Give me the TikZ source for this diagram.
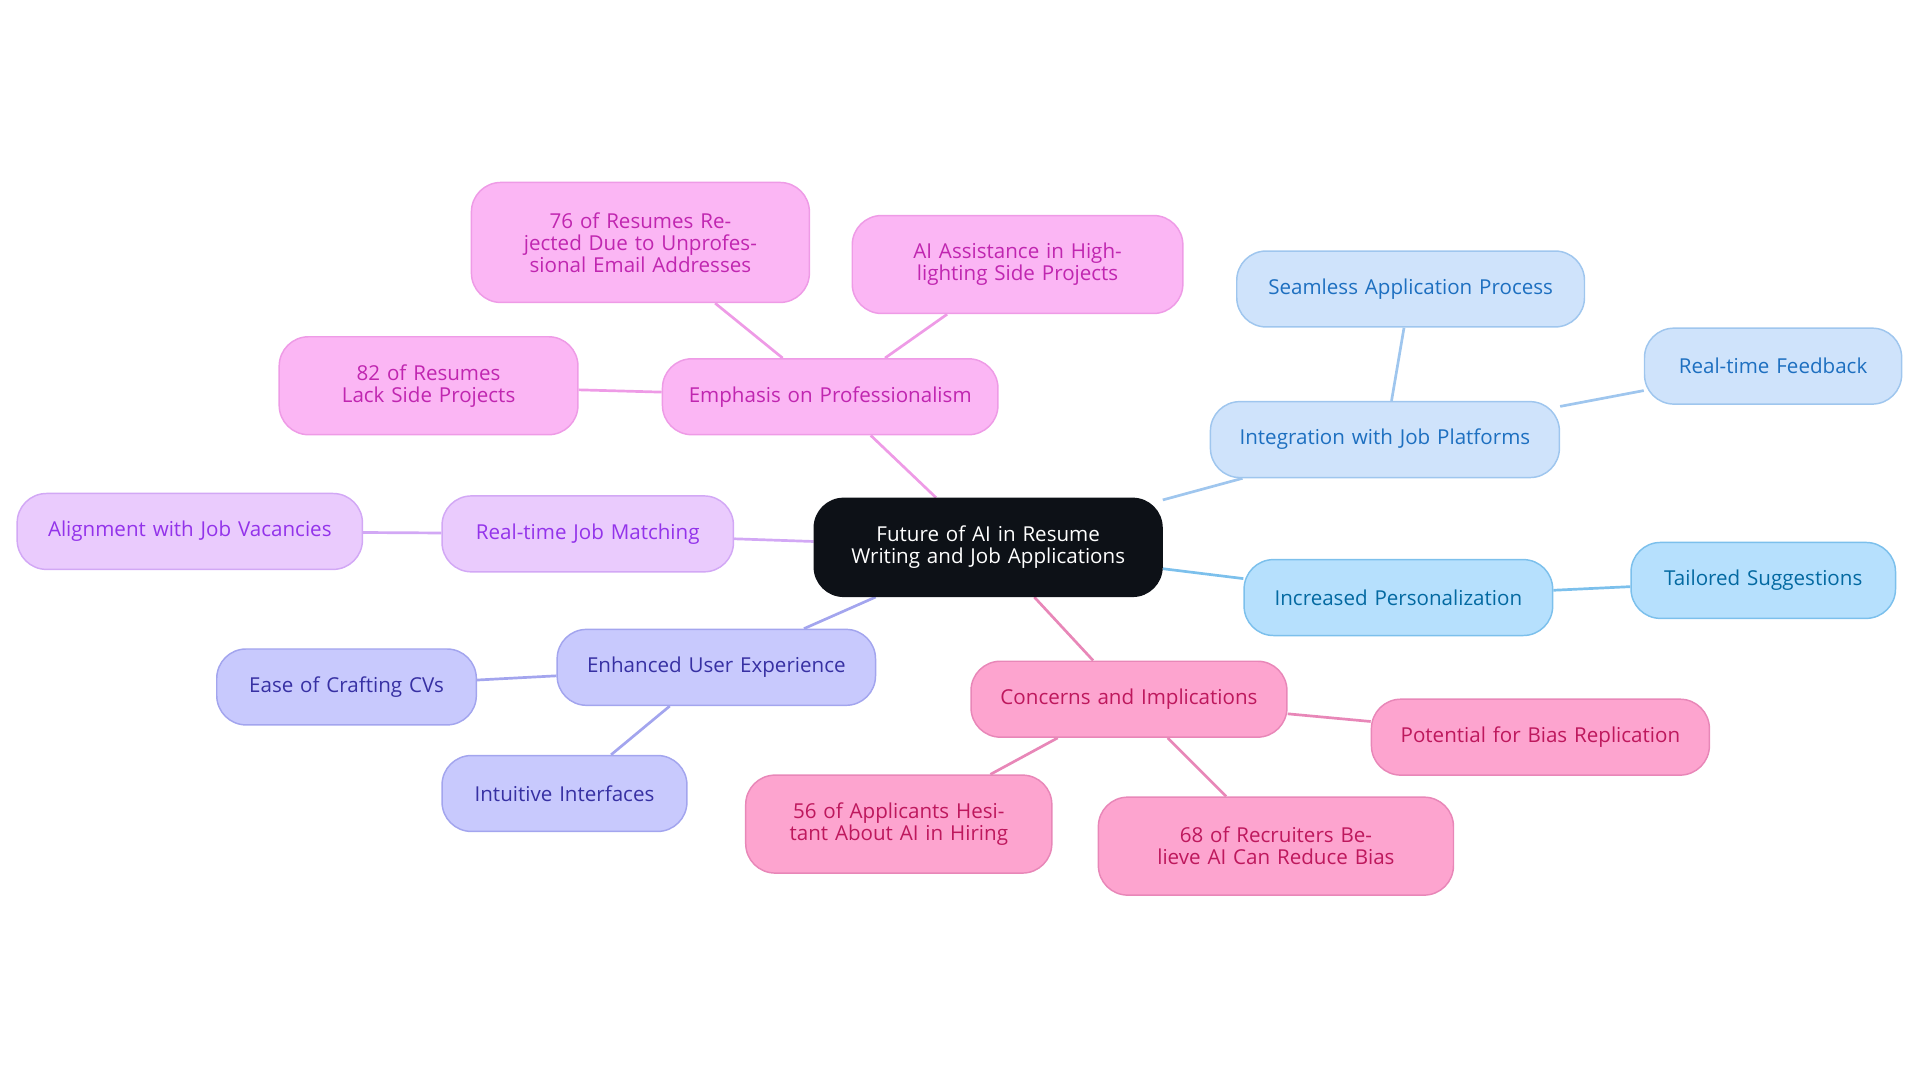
\documentclass[tikz,border=0pt]{standalone}
\usepackage{fontspec}
\setmainfont{Open Sans}
\usetikzlibrary{backgrounds}
\definecolor{pkF}{HTML}{FBB6F4}\definecolor{pkD}{HTML}{EE9BE6}\definecolor{pkT}{HTML}{C026B0}
\definecolor{puF}{HTML}{EACBFD}\definecolor{puD}{HTML}{D2A8F5}\definecolor{puT}{HTML}{9333EA}
\definecolor{inF}{HTML}{C8C9FD}\definecolor{inD}{HTML}{A3A5EE}\definecolor{inT}{HTML}{3730A3}
\definecolor{blF}{HTML}{CFE3FB}\definecolor{blD}{HTML}{9FC6EE}\definecolor{blT}{HTML}{1D6FC0}
\definecolor{skF}{HTML}{B6E0FD}\definecolor{skD}{HTML}{7CC0EC}\definecolor{skT}{HTML}{0369A1}
\definecolor{roF}{HTML}{FDA4CF}\definecolor{roD}{HTML}{E887B8}\definecolor{roT}{HTML}{BE185D}
\definecolor{ctr}{HTML}{0D1117}
\begin{document}
\begin{tikzpicture}[x=0.5pt,y=-0.5pt,
 box/.style n args={4}{draw=#1,fill=#2,text=#3,rounded corners=12pt,line width=0.6pt,
   minimum height=#4*0.5pt,align=center,inner sep=0pt,font=\fontsize{8.4}{9}\selectfont},
 pk/.style 2 args={box={pkD}{pkF}{pkT}{#2},minimum width=#1*0.5pt,text width=(#1-40)*0.5pt},
 pu/.style 2 args={box={puD}{puF}{puT}{#2},minimum width=#1*0.5pt,text width=(#1-40)*0.5pt},
 in/.style 2 args={box={inD}{inF}{inT}{#2},minimum width=#1*0.5pt,text width=(#1-40)*0.5pt},
 bl/.style 2 args={box={blD}{blF}{blT}{#2},minimum width=#1*0.5pt,text width=(#1-40)*0.5pt},
 sk/.style 2 args={box={skD}{skF}{skT}{#2},minimum width=#1*0.5pt,text width=(#1-40)*0.5pt},
 ro/.style 2 args={box={roD}{roF}{roT}{#2},minimum width=#1*0.5pt,text width=(#1-40)*0.5pt},
 ln/.style={line width=1.1pt,draw=#1}]
\useasboundingbox (0,0) rectangle (1568,884);
\node[box={ctr}{ctr}{white}{80},minimum width=142pt,text width=122pt] (c) at (807,447) {Future of AI in Resume Writing and Job Applications};
\node[pk={274}{62}] (ep) at (678,324) {Emphasis on Professionalism};
\node[pk={276}{98}] (r76) at (523,198) {76 of Resumes Rejected Due to Unprofessional Email Addresses};
\node[pk={270}{80}] (ai) at (831,216) {AI Assistance in Highlighting Side Projects};
\node[pk={244}{80}] (r82) at (350,315) {82 of Resumes Lack Side Projects};
\node[pu={238}{62}] (rt) at (480,436) {Real-time Job Matching};
\node[pu={282}{62}] (al) at (155,434) {Alignment with Job Vacancies};
\node[in={260}{62}] (eu) at (585,545) {Enhanced User Experience};
\node[in={212}{62}] (ea) at (283,561) {Ease of Crafting CVs};
\node[in={200}{62}] (ii) at (461,648) {Intuitive Interfaces};
\node[bl={285}{62}] (ij) at (1131,359) {Integration with Job Platforms};
\node[bl={284}{62}] (sa) at (1152,236) {Seamless Application Process};
\node[bl={210}{62}] (rf) at (1448,299) {Real-time Feedback};
\node[sk={252}{62}] (ip) at (1142,488) {Increased Personalization};
\node[sk={216}{62}] (ts) at (1440,474) {Tailored Suggestions};
\node[ro={258}{62}] (ci) at (922,571) {Concerns and Implications};
\node[ro={276}{62}] (pb) at (1258,602) {Potential for Bias Replication};
\node[ro={250}{80}] (a56) at (734,673) {56 of Applicants Hesitant About AI in Hiring};
\node[ro={290}{80}] (r68) at (1042,691) {68 of Recruiters Believe AI Can Reduce Bias};
\begin{pgfonlayer}{background}
\draw[ln=pkD] (c)--(ep) (ep)--(r76) (ep)--(ai) (ep)--(r82);
\draw[ln=puD] (c)--(rt) (rt)--(al);
\draw[ln=inD] (c)--(eu) (eu)--(ea) (eu)--(ii);
\draw[ln=blD] (c)--(ij) (ij)--(sa) (ij)--(rf);
\draw[ln=skD] (c)--(ip) (ip)--(ts);
\draw[ln=roD] (c)--(ci) (ci)--(pb) (ci)--(a56) (ci)--(r68);
\end{pgfonlayer}
\end{tikzpicture}
\end{document}
